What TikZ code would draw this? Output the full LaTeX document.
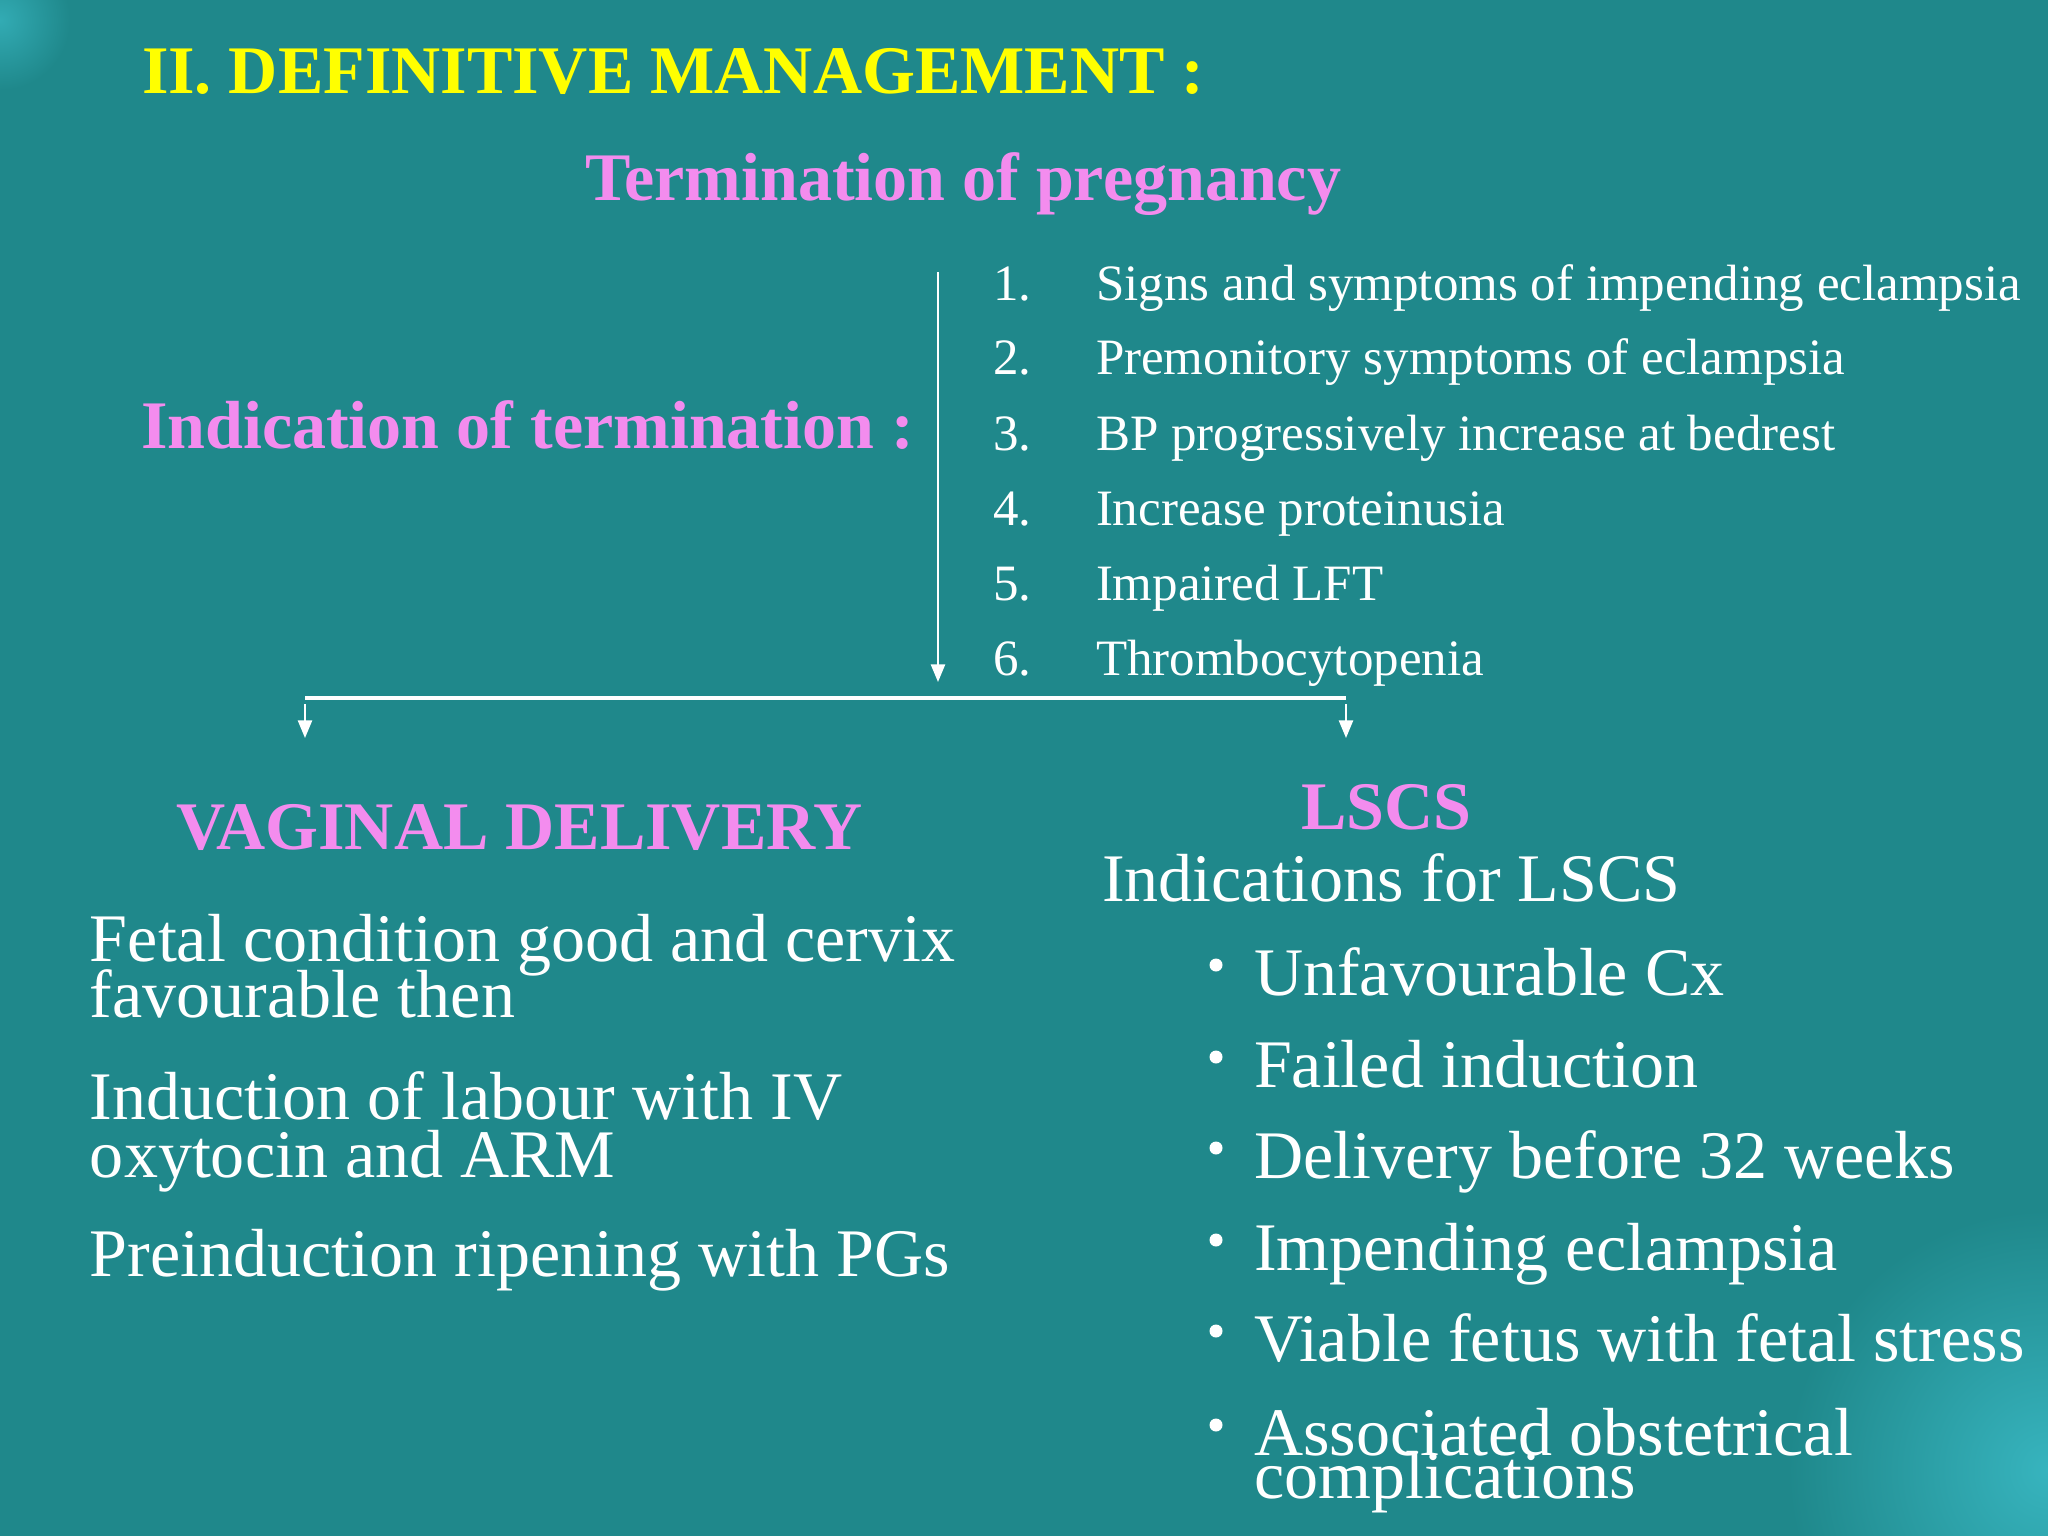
\documentclass[tikz,border=0pt]{standalone}
\usepackage{fontspec}
\setmainfont{Liberation Serif}
\usetikzlibrary{arrows.meta}
\definecolor{bgteal}{RGB}{31,136,139}
\definecolor{bgcyan}{RGB}{55,180,190}
\definecolor{ttlyellow}{RGB}{255,255,0}
\definecolor{hdpink}{RGB}{243,140,238}
\tikzset{
  px/.style={x=0.01cm,y=-0.01cm},
  txt/.style={anchor=base west,inner sep=0pt,outer sep=0pt,text=white},
  bigbold/.style={txt,font=\fontsize{19.35pt}{20pt}\selectfont\bfseries},
  ttl/.style={bigbold,text=ttlyellow},
  hd/.style={bigbold,text=hdpink},
  listtxt/.style={txt,font=\fontsize{14.5pt}{16pt}\selectfont},
  bodytxt/.style={txt,font=\fontsize{19.35pt}{20pt}\selectfont},
  bul/.style={circle,fill=white,inner sep=0pt,minimum size=0.13cm},
  conn/.style={white,line width=0.6pt},
  arr/.style={conn,-{Triangle[width=4pt,length=5pt]}},
}
\begin{document}
\begin{tikzpicture}[px]
\fill[bgteal] (0,0) rectangle (2048,1536);
\begin{scope}
\clip (0,0) rectangle (2048,1536);
\shade[inner color=bgcyan, outer color=bgteal] (2048,1470) circle (260);
\shade[inner color=bgcyan!80!bgteal, outer color=bgteal] (0,20) circle (70);
\end{scope}
\useasboundingbox (0,0) rectangle (2048,1536);

\node[ttl] (title) at (142,93) {II. DEFINITIVE MANAGEMENT :};
\node[hd] (term) at (585,200) {Termination of pregnancy};
\node[hd] (ind) at (141,448) {Indication of termination :};

\foreach \n/\t/\y in {1/Signs and symptoms of impending eclampsia/300,
                      2/Premonitory symptoms of eclampsia/374,
                      3/BP progressively increase at bedrest/450,
                      4/Increase proteinusia/525,
                      5/Impaired LFT/600,
                      6/Thrombocytopenia/675}{
  \node[listtxt] (num\n) at (993,\y) {\n.};
  \node[listtxt] (item\n) at (1096,\y) {\t};
}

\coordinate (vtop) at (938,272);
\coordinate (vbot) at (938,682);
\coordinate (hl) at (305,698);
\coordinate (hr) at (1346,698);
\coordinate (al) at (305,738);
\coordinate (ar) at (1346,738);
\draw[arr] (vtop) -- (vbot);
\draw[white,line width=0.9pt] (hl) -- (hr);
\draw[arr] ([yshift=-0.06cm]hl) -- (al);
\draw[arr] ([yshift=-0.06cm]hr) -- (ar);

\node[hd] (vag) at (176,849) {VAGINAL DELIVERY};
\node[hd] (lscs) at (1301,829) {LSCS};

\node[bodytxt] (v1a) at (90,961) {Fetal condition good and cervix};
\node[bodytxt] (v1b) at (90,1017) {favourable then};
\node[bodytxt] (v2a) at (90,1119) {Induction of labour with IV};
\node[bodytxt] (v2b) at (90,1177) {oxytocin and ARM};
\node[bodytxt] (v3) at (90,1276) {Preinduction ripening with PGs};

\node[bodytxt] (lind) at (1102,901) {Indications for LSCS};
\foreach \k/\t/\y in {1/Unfavourable Cx/995,
                      2/Failed induction/1087,
                      3/Delivery before 32 weeks/1178,
                      4/Impending eclampsia/1270,
                      5/Viable fetus with fetal stress/1361,
                      6/Associated obstetrical/1455}{
  \node[bul] (b\k) at (1216,\y-30) {};
  \node[bodytxt] (l\k) at (1254,\y) {\t};
}
\node[bodytxt] (l6b) at (1254,1498) {complications};
\end{tikzpicture}
\end{document}
